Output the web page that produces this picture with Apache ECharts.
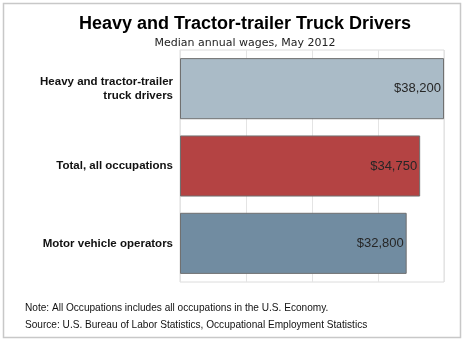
<!DOCTYPE html>
<html>
<head>
<meta charset="utf-8">
<script src="https://cdn.jsdelivr.net/npm/echarts@6/dist/echarts.min.js"></script>
<style>
  html, body { margin: 0; padding: 0; background: #fff; }
  #chart { width: 465px; height: 343px; }
</style>
</head>
<body>
<div id="chart"></div>
<script>
// Median annual wages, May 2012
const categories = [
  'Heavy and tractor-trailer\ntruck drivers',
  'Total, all occupations',
  'Motor vehicle operators'
];
const wages = [38200, 34750, 32800];
const barColors = ['#aabbc7', '#b44343', '#718ca1'];
const notes = [
  'Note: All Occupations includes all occupations in the U.S. Economy.',
  'Source: U.S. Bureau of Labor Statistics, Occupational Employment Statistics'
];

const chart = echarts.init(document.getElementById('chart'));

chart.setOption({
  animation: false,
  backgroundColor: '#fff',
  title: [
    {
      text: 'Heavy and Tractor-trailer Truck Drivers',
      left: 240, top: 10, textAlign: 'center',
      textStyle: { fontFamily: 'Liberation Sans, Arial', fontWeight: 'bold', fontSize: 18, color: '#000' }
    },
    {
      text: 'Median annual wages, May 2012',
      left: 240, top: 33, textAlign: 'center',
      textStyle: { fontFamily: 'DejaVu Sans', fontWeight: 'normal', fontSize: 11, color: '#222' }
    }
  ],
  graphic: [
    {
      type: 'rect', shape: { x: 3.5, y: 3.5, width: 457, height: 334 },
      style: { fill: 'none', stroke: '#c8c8c8', lineWidth: 1.5 }, silent: true
    },
    {
      type: 'text', left: 25, top: 303,
      style: { text: notes[0], fontFamily: 'Liberation Sans, Arial', fontSize: 10.1, fill: '#111' }
    },
    {
      type: 'text', left: 25, top: 320,
      style: { text: notes[1], fontFamily: 'Liberation Sans, Arial', fontSize: 10.1, fill: '#111' }
    }
  ],
  grid: {
    left: 180, right: 21, top: 50, bottom: 61,
    show: true, borderColor: '#dcdcdc', borderWidth: 1
  },
  xAxis: {
    type: 'value', min: 0, max: 38200, interval: 9550,
    axisLabel: { show: false }, axisLine: { show: false }, axisTick: { show: false },
    splitLine: { show: true, lineStyle: { color: '#e4e4e4', width: 1 } }
  },
  yAxis: {
    type: 'category', data: categories, inverse: true,
    axisLine: { show: false }, axisTick: { show: false },
    axisLabel: {
      margin: 7, align: 'right',
      fontFamily: 'Liberation Sans, Arial', fontWeight: 'bold', fontSize: 11.5,
      color: '#111', lineHeight: 14
    }
  },
  series: [{
    type: 'bar',
    data: wages.map((v, i) => ({ value: v, itemStyle: { color: barColors[i] } })),
    barCategoryGap: '21%',
    itemStyle: { borderColor: '#707070', borderWidth: 1 },
    label: {
      show: true, position: 'insideRight', distance: 3,
      formatter: p => '$' + p.value.toLocaleString('en-US'),
      fontFamily: 'Liberation Sans, Arial', fontSize: 13, color: '#262626'
    }
  }]
});
</script>
</body>
</html>
